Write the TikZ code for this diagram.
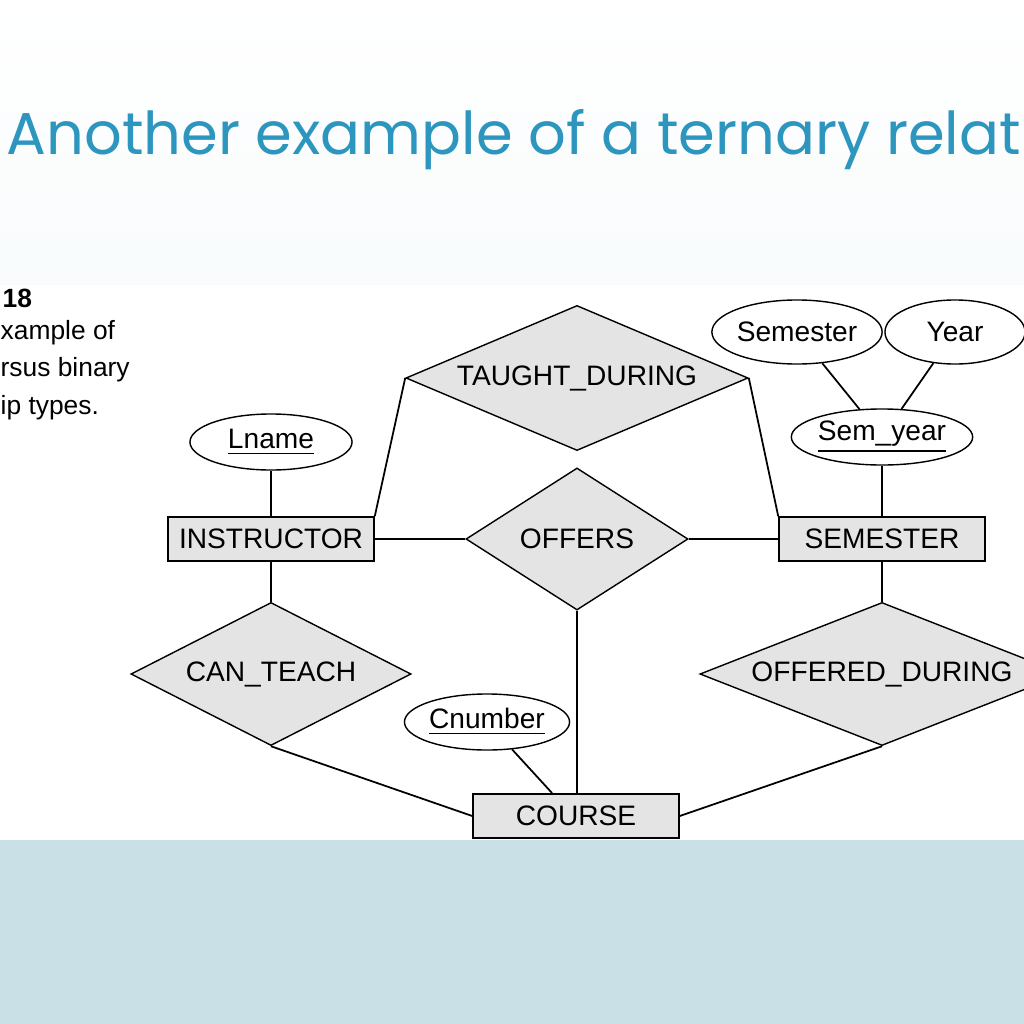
\documentclass[tikz,border=0pt]{standalone}
\usepackage{fontspec}
\setmainfont{Liberation Sans}
\newfontfamily\titlefont{Poppins}
\usetikzlibrary{positioning}
\usetikzlibrary{shapes.geometric}

\definecolor{titleblue}{HTML}{2C96BE}
\definecolor{bandblue}{HTML}{C9E0E6}
\definecolor{boxgray}{HTML}{E4E4E4}

\tikzset{
  entity/.style={draw, fill=boxgray, minimum width=2.06cm, minimum height=0.44cm, inner sep=0pt, font=\fontsize{8pt}{9pt}\selectfont},
  relation/.style={draw, diamond, fill=boxgray, inner sep=0pt, label={[font=\fontsize{8pt}{9pt}\selectfont]center:#1}},
  attrib/.style={draw, ellipse, fill=white, inner sep=0pt, font=\fontsize{8pt}{9pt}\selectfont},
  link/.style={black, line width=0.5pt}
}

\begin{document}
\begin{tikzpicture}[x=0.01cm, y=-0.01cm]
\useasboundingbox (0,0) rectangle (1024,1024);
\clip (0,0) rectangle (1024,1024);
% background
\shade[top color=white, bottom color=white!88!bandblue] (0,0) rectangle (1024,285);
\fill[white] (0,285) rectangle (1024,840);
\fill[bandblue] (0,840) rectangle (1024,1024);
\node[anchor=west, inner sep=0pt, text=titleblue, font=\titlefont\fontsize{16.8pt}{20pt}\selectfont] (title) at (6,140) {Another example of a ternary relat};
% caption
\node[anchor=west, inner sep=0pt, font=\bfseries\fontsize{7.5pt}{9pt}\selectfont] (fig) at (2,298) {18};
\node[anchor=west, inner sep=0pt, font=\fontsize{7.5pt}{9pt}\selectfont] (cap1) at (0,333) {xample of};
\node[anchor=west, inner sep=0pt, font=\fontsize{7.5pt}{9pt}\selectfont] (cap2) at (0,370) {rsus binary};
\node[anchor=west, inner sep=0pt, font=\fontsize{7.5pt}{9pt}\selectfont] (cap3) at (0,408) {ip types.};

% relationships
\node[relation={TAUGHT\_DURING}, minimum width=3.42cm, minimum height=1.45cm] (taught) at (577,378) {};
\node[relation={OFFERS}, minimum width=2.22cm, minimum height=1.42cm] (offers) at (577,539) {};
\node[relation={CAN\_TEACH}, minimum width=2.80cm, minimum height=1.43cm] (canteach) at (271,674) {};
\node[relation={OFFERED\_DURING}, minimum width=3.64cm, minimum height=1.43cm] (offdur) at (882,674) {};

% entities
\node[entity] (instr) at (271,539) {INSTRUCTOR};
\node[entity] (sem) at (882,539) {SEMESTER};
\node[entity] (course) at (576,816) {COURSE};

% attributes
\node[attrib, minimum width=1.62cm, minimum height=0.56cm] (lname) at (271,442) {\underline{Lname}};
\node[attrib, minimum width=1.60cm, minimum height=0.64cm] (semester) at (797,332) {Semester};
\node[attrib, minimum width=1.40cm, minimum height=0.64cm] (year) at (955,332) {Year};
\node[attrib, minimum width=1.61cm, minimum height=0.56cm] (semyear) at (882,437) {\underline{Sem\_year}};
\node[attrib, minimum width=1.65cm, minimum height=0.56cm] (cnumber) at (487,722) {\underline{Cnumber}};

% connectors
\draw[link] (taught.west) -- (instr.north east);
\draw[link] (taught.east) -- (sem.north west);
\draw[link] (lname) -- (instr);
\draw[link] (semester) -- (semyear);
\draw[link] (year) -- (semyear);
\draw[link] (semyear) -- (sem);
\draw[link] (instr.east) -- (offers.west);
\draw[link] (offers.east) -- (sem.west);
\draw[link] (offers.south) -- (offers.south |- course.north);
\draw[link] (instr) -- (canteach);
\draw[link] (sem) -- (offdur);
\draw[link] (canteach.south) -- (course.west);
\draw[link] (offdur.south) -- (course.east);
\draw[link] (cnumber) -- (552,793);
\end{tikzpicture}
\end{document}
